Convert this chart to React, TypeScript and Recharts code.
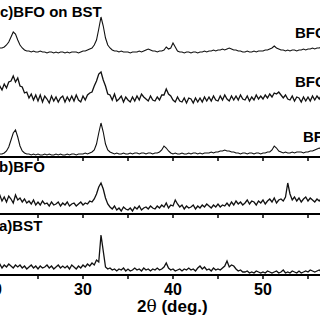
import { LineChart, Line, XAxis, YAxis } from 'recharts'

// 2θ sampling (deg.)
const twoTheta = [
  20.5, 20.75,
  21, 21.25, 21.5, 21.75, 22, 22.25, 22.5, 22.75, 23, 23.25, 23.5, 23.75,
  24, 24.25, 24.5, 24.75, 25, 25.25, 25.5, 25.75, 26, 26.25, 26.5, 26.75,
  27, 27.25, 27.5, 27.75, 28, 28.25, 28.5, 28.75, 29, 29.25, 29.5, 29.75,
  30, 30.25, 30.5, 30.75, 31, 31.25, 31.5, 31.75, 32, 32.25, 32.5, 32.75,
  33, 33.25, 33.5, 33.75, 34, 34.25, 34.5, 34.75, 35, 35.25, 35.5, 35.75,
  36, 36.25, 36.5, 36.75, 37, 37.25, 37.5, 37.75, 38, 38.25, 38.5, 38.75,
  39, 39.25, 39.5, 39.75, 40, 40.25, 40.5, 40.75, 41, 41.25, 41.5, 41.75,
  42, 42.25, 42.5, 42.75, 43, 43.25, 43.5, 43.75, 44, 44.25, 44.5, 44.75,
  45, 45.25, 45.5, 45.75, 46, 46.25, 46.5, 46.75, 47, 47.25, 47.5, 47.75,
  48, 48.25, 48.5, 48.75, 49, 49.25, 49.5, 49.75, 50, 50.25, 50.5, 50.75,
  51, 51.25, 51.5, 51.75, 52, 52.25, 52.5, 52.75, 53, 53.25, 53.5, 53.75,
  54, 54.25, 54.5, 54.75, 55, 55.25, 55.5, 55.75, 56, 56.25, 56.5, 56.75,
]

// (c) BFO on BST, three films, offset intensities (a.u.)
const bfoOnBst1 = [
  108, 109,
  109, 110, 112, 115, 120, 125, 123, 117, 112, 109, 107, 106,
  106, 105, 106, 105, 105, 106, 105, 105, 104, 105, 105, 104,
  105, 104, 105, 105, 104, 105, 104, 105, 105, 105, 104, 105,
  106, 106, 107, 108, 109, 112, 117, 128, 140, 131, 119, 112,
  109, 107, 106, 106, 105, 106, 105, 105, 105, 104, 105, 105,
  105, 106, 105, 106, 107, 108, 107, 106, 106, 105, 106, 106,
  107, 110, 108, 109, 114, 110, 106, 105, 105, 104, 105, 105,
  104, 105, 105, 104, 105, 105, 106, 105, 106, 106, 107, 106,
  107, 107, 108, 107, 108, 109, 108, 107, 107, 106, 106, 105,
  105, 106, 105, 105, 106, 105, 106, 106, 106, 107, 107, 108,
  109, 111, 109, 108, 107, 107, 106, 107, 106, 107, 107, 106,
  107, 107, 108, 107, 108, 108, 109, 108, 109, 109, 110, 109,
]
const bfoOnBst2 = [
  64, 71,
  67, 73, 69, 75, 76, 81, 75, 79, 71, 70, 64, 65,
  59, 63, 57, 62, 56, 62, 55, 61, 58, 54, 61, 56,
  60, 55, 59, 61, 55, 60, 56, 61, 56, 62, 57, 55,
  61, 57, 62, 64, 65, 71, 76, 83, 85, 77, 71, 63,
  62, 57, 63, 56, 58, 61, 55, 60, 57, 55, 60, 56,
  61, 57, 63, 60, 58, 56, 61, 57, 56, 60, 57, 62,
  62, 68, 63, 61, 57, 55, 60, 56, 55, 59, 54, 59,
  58, 54, 59, 55, 59, 55, 60, 56, 60, 56, 61, 57,
  56, 61, 57, 62, 58, 56, 61, 57, 61, 57, 62, 58,
  57, 61, 56, 60, 57, 62, 58, 61, 58, 62, 59, 63,
  60, 64, 63, 65, 62, 59, 62, 58, 57, 61, 56, 60,
  59, 55, 60, 56, 60, 56, 61, 57, 61, 58, 62, 59,
]
const bfoOnBst3 = [
  2, 3,
  3, 4, 6, 10, 17, 24, 27, 20, 11, 6, 4, 3,
  3, 2, 3, 2, 3, 2, 2, 3, 2, 3, 2, 2,
  3, 2, 3, 2, 2, 3, 2, 3, 3, 2, 3, 3,
  3, 4, 3, 4, 5, 7, 13, 24, 34, 25, 13, 7,
  5, 4, 3, 4, 3, 3, 4, 3, 3, 4, 3, 4,
  4, 3, 4, 4, 3, 4, 4, 3, 4, 4, 5, 7,
  11, 9, 6, 4, 3, 4, 3, 3, 4, 3, 3, 4,
  3, 4, 4, 3, 4, 3, 4, 4, 4, 5, 4, 5,
  5, 6, 6, 7, 6, 6, 5, 5, 4, 4, 3, 4,
  4, 3, 4, 4, 3, 4, 4, 3, 4, 4, 5, 5,
  7, 11, 9, 6, 5, 4, 5, 4, 4, 5, 4, 5,
  5, 5, 4, 5, 5, 6, 6, 7, 8, 9, 8, 9,
]

// (b) BFO
const bfo = [
  14, 19,
  13, 17, 12, 18, 15, 11, 19, 14, 16, 12, 15, 11,
  13, 10, 14, 9, 12, 9, 13, 10, 11, 8, 12, 9,
  10, 12, 8, 11, 9, 12, 8, 10, 11, 8, 10, 12,
  9, 11, 10, 13, 12, 15, 20, 27, 31, 25, 16, 10,
  7, 5, 8, 4, 6, 3, 7, 5, 4, 6, 3, 7,
  5, 8, 4, 6, 7, 5, 8, 6, 5, 8, 6, 9,
  7, 11, 6, 9, 8, 14, 10, 7, 9, 5, 8, 6,
  7, 9, 5, 8, 6, 9, 7, 10, 8, 6, 9, 7,
  10, 7, 9, 8, 11, 8, 12, 9, 13, 10, 12, 9,
  11, 14, 10, 13, 12, 9, 13, 11, 14, 10, 13, 15,
  12, 16, 11, 14, 15, 13, 17, 31, 20, 14, 17, 13,
  16, 12, 15, 17, 13, 16, 14, 12, 15, 13, 16, 14,
]

// (a) BST
const bst = [
  9, 11,
  7, 10, 8, 11, 9, 7, 10, 8, 10, 7, 9, 6,
  8, 10, 7, 9, 6, 9, 7, 8, 10, 7, 9, 6,
  8, 10, 7, 9, 7, 9, 6, 10, 8, 6, 9, 7,
  10, 8, 11, 9, 12, 10, 15, 13, 40, 24, 8, 6,
  7, 5, 6, 4, 6, 5, 7, 4, 6, 4, 5, 7,
  5, 6, 4, 7, 5, 6, 4, 6, 5, 7, 5, 6,
  8, 12, 7, 5, 6, 4, 5, 6, 4, 6, 5, 7,
  5, 6, 4, 7, 9, 6, 8, 5, 6, 4, 7, 5,
  6, 5, 7, 9, 14, 8, 10, 9, 6, 4, 5, 3,
  3, 4, 2, 3, 2, 4, 3, 2, 3, 2, 4, 3,
  2, 3, 4, 2, 3, 5, 2, 3, 2, 4, 3, 2,
  4, 2, 3, 4, 3, 5, 4, 3, 4, 5, 3, 4,
]

const xTicks = [20, 25, 30, 35, 40, 45, 50, 55]

const data = twoTheta.map((t, i) => ({
  t,
  c1: bfoOnBst1[i],
  c2: bfoOnBst2[i],
  c3: bfoOnBst3[i],
  b: bfo[i],
  a: bst[i],
}))

const font = '"Liberation Sans", Arial, sans-serif'
const axisLine = { stroke: '#000', strokeWidth: 2 }
const tickLine = { stroke: '#000', strokeWidth: 1.5 }
const noisy = ['c2', 'b', 'a']

function Panel({ top, height, axisHeight, yMax, keys, showLabels, topBar }: any) {
  return (
    <div style={{ position: 'absolute', left: -25, top }}>
      <LineChart width={360} height={height} data={data} margin={{ top: topBar ? 1 : 0, right: 0, bottom: 0, left: 0 }}>
        <XAxis
          dataKey='t'
          type='number'
          domain={[18, 58]}
          ticks={xTicks}
          height={axisHeight}
          axisLine={axisLine}
          tickLine={tickLine}
          tickSize={4}
          tickMargin={5}
          interval={0}
          tick={{ fill: '#000', fontSize: 16, fontWeight: 'bold', fontFamily: font }}
          tickFormatter={(v: number) => (showLabels && v % 10 === 0 ? String(v) : '')}
        />
        {topBar && (
          <XAxis
            xAxisId='top'
            orientation='top'
            dataKey='t'
            type='number'
            domain={[18, 58]}
            height={0}
            axisLine={axisLine}
            tick={false}
            tickLine={false}
          />
        )}
        <YAxis hide domain={[0, yMax]} allowDataOverflow />
        {keys.map((k: string) => (
          <Line
            key={k}
            dataKey={k}
            type='linear'
            stroke='#111'
            strokeWidth={noisy.includes(k) ? 1.3 : 1.1}
            dot={false}
            isAnimationActive={false}
          />
        ))}
      </LineChart>
    </div>
  )
}

export default function App() {
  const label = { fontFamily: font, fontWeight: 'bold', fontSize: 15, fill: '#000' }
  return (
    <div style={{ position: 'fixed', left: 0, top: 0, width: 320, height: 320, overflow: 'hidden', background: '#fff' }}>
      <Panel top={0} height={163} axisHeight={6} yMax={156} keys={['c1', 'c2', 'c3']} topBar />
      <Panel top={158} height={62} axisHeight={6} yMax={56} keys={['b']} />
      <Panel top={214} height={106} axisHeight={45} yMax={61} keys={['a']} showLabels />
      <svg width={320} height={320} style={{ position: 'absolute', left: 0, top: 0, pointerEvents: 'none' }}>
        <text x={0} y={17} {...label}>c)BFO on BST</text>
        <text x={295} y={38} {...label}>BFO</text>
        <text x={295} y={87} {...label}>BFO</text>
        <text x={303} y={142} {...label}>BFO</text>
        <text x={-1} y={172} {...label}>b)BFO</text>
        <text x={-1} y={231} {...label}>a)BST</text>
        <text x={137} y={312} {...label} fontSize={17}>
          2<tspan fontFamily='"DejaVu Serif", serif' fontWeight='normal'>θ</tspan> (deg.)
        </text>
      </svg>
    </div>
  )
}
